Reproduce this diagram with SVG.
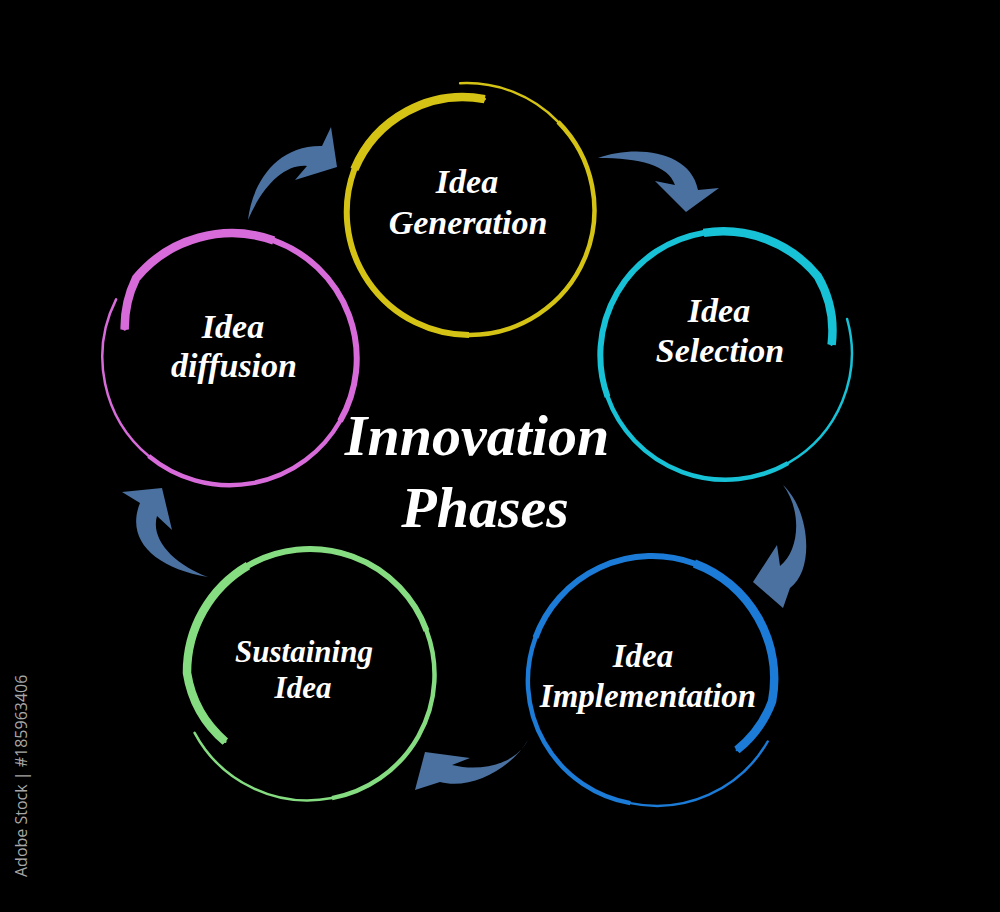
<svg xmlns="http://www.w3.org/2000/svg" width="1000" height="912" viewBox="0 0 1000 912">
  <style>
    .lbl { font-family: "Liberation Serif", "Times New Roman", serif; font-style: italic; font-weight: bold; fill: #ffffff; text-anchor: middle; }
    .ring { fill: none; stroke-linejoin: round; }
    .w1 { stroke-width: 2.5; stroke-linecap: round; }
    .w2 { stroke-width: 4.5; stroke-linecap: butt; }
    .w3 { stroke-width: 6; stroke-linecap: butt; }
    .w4 { stroke-width: 8.5; stroke-linecap: butt; }
    .arrow { fill: #4b71a0; }
    .stockid { font-family: "Open Sans", "Liberation Sans", sans-serif; font-size: 16px; fill: #a8a8a8; }
  </style>
  <rect x="0" y="0" width="1000" height="912" fill="#000000"/>

  <g id="node-idea-generation">
    <g class="ring" stroke="#d4c314">
      <path class="w1" d="M460.1,83.3 A127,127 0 0 1 558.1,121.9 A125,125 0 0 1 469,335 A123,123 0 0 1 354.4,169.3 A118,118 0 0 1 484.7,99.1"/>
      <path class="w2" d="M558.1,121.9 A125,125 0 0 1 469,335 A123,123 0 0 1 354.4,169.3 A118,118 0 0 1 484.7,99.1"/>
      <path class="w3" d="M469,335 A123,123 0 0 1 354.4,169.3 A118,118 0 0 1 484.7,99.1"/>
      <path class="w4" d="M354.4,169.3 A118,118 0 0 1 484.7,99.1"/>
    </g>
    <text class="lbl" x="467" y="193" font-size="34">Idea</text>
    <text class="lbl" x="468" y="234" font-size="34">Generation</text>
  </g>

  <g id="node-idea-selection">
    <g class="ring" stroke="#17c1d6">
      <path class="w1" d="M847.1,319 A126.5,126.5 0 0 1 788,463.1 A125.5,125.5 0 0 1 607.5,396.75 A124,124 0 0 1 703.6,232.9 A122,122 0 0 1 817.7,276.2 A110,110 0 0 1 831.6,344.7"/>
      <path class="w2" d="M788,463.1 A125.5,125.5 0 0 1 607.5,396.75 A124,124 0 0 1 703.6,232.9 A122,122 0 0 1 817.7,276.2 A110,110 0 0 1 831.6,344.7"/>
      <path class="w3" d="M607.5,396.75 A124,124 0 0 1 703.6,232.9 A122,122 0 0 1 817.7,276.2 A110,110 0 0 1 831.6,344.7"/>
      <path class="w4" d="M703.6,232.9 A122,122 0 0 1 817.7,276.2 A110,110 0 0 1 831.6,344.7"/>
    </g>
    <text class="lbl" x="719" y="322" font-size="34">Idea</text>
    <text class="lbl" x="720" y="362" font-size="34">Selection</text>
  </g>

  <g id="node-idea-implementation">
    <g class="ring" stroke="#1b7bd6">
      <path class="w1" d="M767.7,741.5 A128,128 0 0 1 630.3,803.1 A124.5,124.5 0 0 1 535.5,637.6 A124,124 0 0 1 694.4,563.5 A123,123 0 0 1 772.1,701.2 A112,112 0 0 1 736.9,750"/>
      <path class="w2" d="M630.3,803.1 A124.5,124.5 0 0 1 535.5,637.6 A124,124 0 0 1 694.4,563.5 A123,123 0 0 1 772.1,701.2 A112,112 0 0 1 736.9,750"/>
      <path class="w3" d="M535.5,637.6 A124,124 0 0 1 694.4,563.5 A123,123 0 0 1 772.1,701.2 A112,112 0 0 1 736.9,750"/>
      <path class="w4" d="M694.4,563.5 A123,123 0 0 1 772.1,701.2 A112,112 0 0 1 736.9,750"/>
    </g>
    <text class="lbl" x="643" y="667" font-size="33">Idea</text>
    <text class="lbl" x="648" y="707" font-size="33">Implementation</text>
  </g>

  <g id="node-sustaining-idea">
    <g class="ring" stroke="#86dc80">
      <path class="w1" d="M194.6,732.8 A128.5,128.5 0 0 0 332,798.1 A125.5,125.5 0 0 0 426.5,630.6 A124,124 0 0 0 248,565.6 A123.5,123.5 0 0 0 187,673 A114,114 0 0 0 225.3,741.6"/>
      <path class="w2" d="M332,798.1 A125.5,125.5 0 0 0 426.5,630.6 A124,124 0 0 0 248,565.6 A123.5,123.5 0 0 0 187,673 A114,114 0 0 0 225.3,741.6"/>
      <path class="w3" d="M426.5,630.6 A124,124 0 0 0 248,565.6 A123.5,123.5 0 0 0 187,673 A114,114 0 0 0 225.3,741.6"/>
      <path class="w4" d="M248,565.6 A123.5,123.5 0 0 0 187,673 A114,114 0 0 0 225.3,741.6"/>
    </g>
    <text class="lbl" x="304" y="662" font-size="31">Sustaining</text>
    <text class="lbl" x="303" y="698" font-size="31">Idea</text>
  </g>

  <g id="node-idea-diffusion">
    <g class="ring" stroke="#d76bda">
      <path class="w1" d="M116.1,299.4 A128.5,128.5 0 0 0 148.7,456 A127,127 0 0 0 340.1,421 A125.5,125.5 0 0 0 273.75,240.5 A124.5,124.5 0 0 0 136,278.3 A112,112 0 0 0 124.7,329.5"/>
      <path class="w2" d="M148.7,456 A127,127 0 0 0 340.1,421 A125.5,125.5 0 0 0 273.75,240.5 A124.5,124.5 0 0 0 136,278.3 A112,112 0 0 0 124.7,329.5"/>
      <path class="w3" d="M340.1,421 A125.5,125.5 0 0 0 273.75,240.5 A124.5,124.5 0 0 0 136,278.3 A112,112 0 0 0 124.7,329.5"/>
      <path class="w4" d="M273.75,240.5 A124.5,124.5 0 0 0 136,278.3 A112,112 0 0 0 124.7,329.5"/>
    </g>
    <text class="lbl" x="233" y="338" font-size="34">Idea</text>
    <text class="lbl" x="234" y="377" font-size="34">diffusion</text>
  </g>

  <g id="title">
    <text class="lbl" x="477" y="455" font-size="58">Innovation</text>
    <text class="lbl" x="485" y="527" font-size="58">Phases</text>
  </g>

  <g id="connectors">
    <path class="arrow" d="M248,220 C252,185 275,145 322,146 L331,127 L337,167 L295,180 L307,166 C285,164 263,185 248,220 Z"/>
    <path class="arrow" d="M598,158 C635,145 690,150 698,190 L719,188 L686,212 L655,181 L675,185 C668,165 640,158 598,158 Z"/>
    <path class="arrow" d="M783,485 C810,510 815,570 790,588 L783,608 L753,582 L777,545 L780,566 C800,550 802,510 783,485 Z"/>
    <path class="arrow" d="M528,740 C510,770 470,790 440,782 L415,790 L425,752 L470,758 L452,765 C480,772 515,765 528,740 Z"/>
    <path class="arrow" d="M208,577 C155,568 125,540 140,503 L122,492 L162,488 L172,530 L157,516 C150,540 175,565 208,577 Z"/>
  </g>

  <text class="stockid" transform="translate(27,877) rotate(-90)">Adobe Stock | #185963406</text>
</svg>
